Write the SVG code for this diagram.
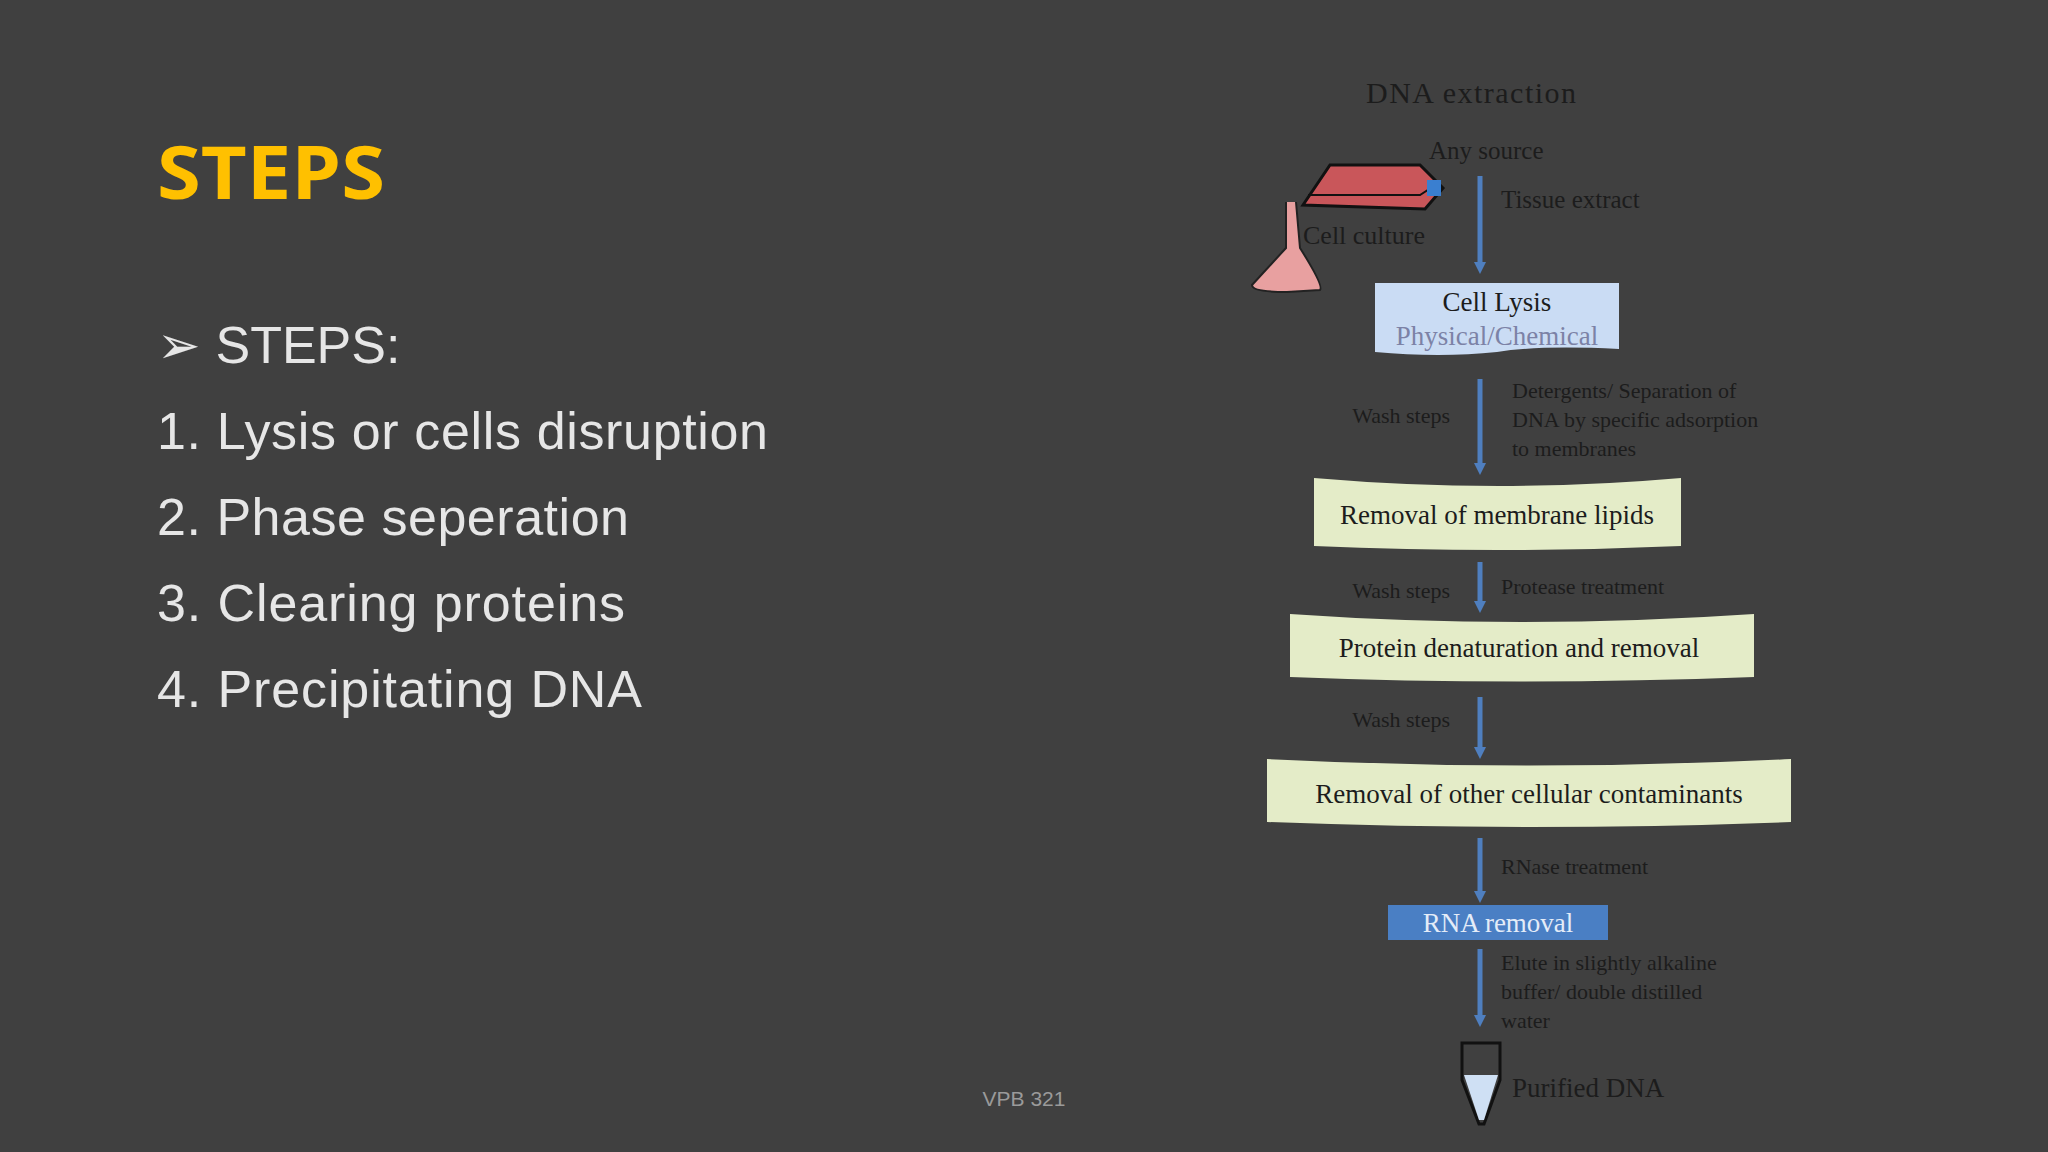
<svg xmlns="http://www.w3.org/2000/svg" width="2048" height="1152" viewBox="0 0 2048 1152">
<style>
.l{font-family:"Liberation Sans",Arial,sans-serif;fill:#e6e6e6;font-size:52px}
.s{font-family:"Liberation Serif","Times New Roman",serif;fill:#1c1c1c}
.sm{font-size:22px}
.bx{font-size:27px;text-anchor:middle}
.ar{stroke:#4f7fbf;stroke-width:5}
.box{fill:#e4ecc8}
</style>
<defs><marker id="ah" markerWidth="2.4" markerHeight="2.4" refX="1.2" refY="1.2" orient="auto"><path d="M0,0 L2.4,1.2 L0,2.4 Z" fill="#4f7fbf"/></marker></defs>
<rect width="2048" height="1152" fill="#404040"/>
<text x="157" y="199" font-family="Open Sans,Liberation Sans,Arial,sans-serif" font-weight="bold" font-size="74" fill="#ffc000" textLength="228" lengthAdjust="spacingAndGlyphs">STEPS</text>
<g id="list">
<text class="l" x="157" y="363">➢ STEPS:</text>
<text class="l" x="157" y="449" textLength="611">1. Lysis or cells disruption</text>
<text class="l" x="157" y="535" textLength="472">2. Phase seperation</text>
<text class="l" x="157" y="621" textLength="468">3. Clearing proteins</text>
<text class="l" x="157" y="707" textLength="485">4. Precipitating DNA</text>
</g>
<text x="1024" y="1106" font-family="Liberation Sans,Arial,sans-serif" font-size="21" fill="#9a9a9a" text-anchor="middle">VPB 321</text>
<text class="s" x="1471" y="103" font-size="30" text-anchor="middle" textLength="210">DNA  extraction</text>
<g id="connectors">
<line class="ar" x1="1480" y1="176" x2="1480" y2="268" marker-end="url(#ah)"/>
<line class="ar" x1="1480" y1="379" x2="1480" y2="469" marker-end="url(#ah)"/>
<line class="ar" x1="1480" y1="562" x2="1480" y2="607" marker-end="url(#ah)"/>
<line class="ar" x1="1480" y1="697" x2="1480" y2="753" marker-end="url(#ah)"/>
<line class="ar" x1="1480" y1="838" x2="1480" y2="897" marker-end="url(#ah)"/>
<line class="ar" x1="1480" y1="949" x2="1480" y2="1021" marker-end="url(#ah)"/>
</g>
<g id="source">
<text class="s" x="1429" y="159" font-size="25">Any source</text>
<text class="s" x="1501" y="208" font-size="25">Tissue extract</text>
<text class="s" x="1303" y="244" font-size="26">Cell culture</text>
<path d="M1303,205 L1330,165 L1420,165 L1443,188 L1425,209 Z" fill="#c9565a" stroke="#111" stroke-width="3"/>
<path d="M1308,195 L1420,195 L1440,182" fill="none" stroke="#111" stroke-width="2"/>
<rect x="1427" y="180" width="14" height="16" fill="#3a7fd0"/>
<path d="M1286,202 L1286,248 L1252,285 Q1252,292 1287,292 L1320,290 Q1324,286 1300,248 L1296,202" fill="#e8a0a0" stroke="#222" stroke-width="2"/>
</g>
<g id="lysis">
<path d="M1375,283 L1619,283 L1619,349 Q1540,345 1497,352 Q1440,358 1375,352 Z" fill="#cadcf4"/>
<text class="s bx" x="1497" y="311">Cell Lysis</text>
<text class="s bx" x="1497" y="345" style="fill:#7c82a6">Physical/Chemical</text>
</g>
<g id="lbl2">
<text class="s sm" x="1450" y="423" text-anchor="end">Wash steps</text>
<text class="s sm" x="1512" y="398">Detergents/ Separation of</text>
<text class="s sm" x="1512" y="427">DNA by specific adsorption</text>
<text class="s sm" x="1512" y="456">to membranes</text>
</g>
<g id="lipids">
<path class="box" d="M1314,478 Q1500,494 1681,478 L1681,546 Q1500,554 1314,546 Z"/>
<text class="s bx" x="1497" y="524">Removal of membrane lipids</text>
</g>
<text class="s sm" x="1450" y="598" text-anchor="end">Wash steps</text>
<text class="s sm" x="1501" y="594">Protease treatment</text>
<g id="protein">
<path class="box" d="M1290,614 Q1520,630 1754,614 L1754,677 Q1520,686 1290,677 Z"/>
<text class="s bx" x="1519" y="657">Protein denaturation and removal</text>
</g>
<text class="s sm" x="1450" y="727" text-anchor="end">Wash steps</text>
<g id="other">
<path class="box" d="M1267,759 Q1530,772 1791,759 L1791,822 Q1530,832 1267,822 Z"/>
<text class="s bx" x="1529" y="803">Removal of other cellular contaminants</text>
</g>
<text class="s sm" x="1501" y="874">RNase  treatment</text>
<g id="rna">
<rect x="1388" y="905" width="220" height="35" fill="#4a7fc4"/>
<text class="s bx" x="1498" y="932" style="fill:#e4ecf8">RNA removal</text>
</g>
<g id="elute">
<text class="s sm" x="1501" y="970">Elute in slightly alkaline</text>
<text class="s sm" x="1501" y="999">buffer/ double distilled</text>
<text class="s sm" x="1501" y="1028">water</text>
</g>
<g id="purified">
<path d="M1462,1043 L1500,1043 L1500,1080 L1484,1124 L1479,1124 L1462,1080 Z" fill="#404040" stroke="#111" stroke-width="3"/>
<path d="M1464,1075 L1498,1075 L1484,1120 L1479,1120 Z" fill="#cfe0f4"/>
<text class="s" x="1512" y="1097" font-size="27">Purified DNA</text>
</g>
</svg>
